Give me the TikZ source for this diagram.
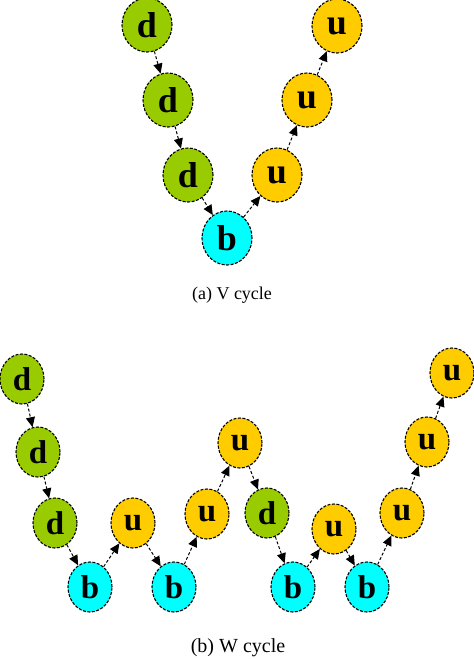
\documentclass[tikz,border=0pt]{standalone}
\usepackage{fontspec}
\setmainfont{Liberation Serif}
\usetikzlibrary{shapes.geometric,arrows.meta}
\definecolor{dgreen}{RGB}{153,204,0}
\definecolor{uorange}{RGB}{255,204,0}
\definecolor{bcyan}{RGB}{0,255,255}
\begin{document}
\begin{tikzpicture}[x=1pt,y=-1pt,
    vnode/.style={shape=ellipse,draw=black,dash pattern=on 3pt off 1.5pt,line width=1.1pt,minimum width=50pt,minimum height=54pt,inner sep=0pt,font=\fontsize{36}{36}\selectfont\bfseries},
    wnode/.style={shape=ellipse,draw=black,dash pattern=on 3pt off 1.5pt,line width=1.1pt,minimum width=44pt,minimum height=50pt,inner sep=0pt,font=\fontsize{33}{33}\selectfont\bfseries},
    flow/.style={dash pattern=on 3pt off 2pt,line width=1pt,-{Triangle[length=10pt,width=9pt]}}]
        \useasboundingbox (0,0) rectangle (474,659);
            % V cycle
            \node[vnode,fill=dgreen] (VD1) at (147,25) {d};
            \node[vnode,fill=dgreen] (VD2) at (168,100) {d};
            \node[vnode,fill=dgreen] (VD3) at (188,175) {d};
            \node[vnode,fill=bcyan] (VB) at (227,238) {b};
            \node[vnode,fill=uorange] (VU1) at (277,175) {u};
            \node[vnode,fill=uorange] (VU2) at (307,100) {u};
            \node[vnode,fill=uorange] (VU3) at (337,26) {u};
            \path [flow] (VD1) edge (VD2);
            \path [flow] (VD2) edge (VD3);
            \path [flow] (VD3) edge (VB);
            \path [flow] (VB) edge (VU1);
            \path [flow] (VU1) edge (VU2);
            \path [flow] (VU2) edge (VU3);
            \node[font=\fontsize{18}{18}\selectfont] (CapV) at (232,295) {(a) V cycle};
            % W cycle
            \node[wnode,fill=dgreen] (WD1) at (22,379) {d};
            \node[wnode,fill=dgreen] (WD2) at (38,452) {d};
            \node[wnode,fill=dgreen] (WD3) at (55,523) {d};
            \node[wnode,fill=bcyan] (WB1) at (90,587) {b};
            \node[wnode,fill=uorange] (WU1) at (133,523) {u};
            \node[wnode,fill=bcyan] (WB2) at (174,587) {b};
            \node[wnode,fill=uorange] (WU2) at (207,514) {u};
            \node[wnode,fill=uorange] (WU3) at (240,443) {u};
            \node[wnode,fill=dgreen] (WD4) at (267,513) {d};
            \node[wnode,fill=bcyan] (WB3) at (293,587) {b};
            \node[wnode,fill=uorange] (WU4) at (334,529) {u};
            \node[wnode,fill=bcyan] (WB4) at (367,587) {b};
            \node[wnode,fill=uorange] (WU5) at (402,513) {u};
            \node[wnode,fill=uorange] (WU6) at (427,442) {u};
            \node[wnode,fill=uorange] (WU7) at (452,373) {u};
            \path [flow] (WD1) edge (WD2);
            \path [flow] (WD2) edge (WD3);
            \path [flow] (WD3) edge (WB1);
            \path [flow] (WB1) edge (WU1);
            \path [flow] (WU1) edge (WB2);
            \path [flow] (WB2) edge (WU2);
            \path [flow] (WU2) edge (WU3);
            \path [flow] (WU3) edge (WD4);
            \path [flow] (WD4) edge (WB3);
            \path [flow] (WB3) edge (WU4);
            \path [flow] (WU4) edge (WB4);
            \path [flow] (WB4) edge (WU5);
            \path [flow] (WU5) edge (WU6);
            \path [flow] (WU6) edge (WU7);
            \node[font=\fontsize{20}{20}\selectfont] (CapW) at (238,648) {(b) W cycle};
        \end{tikzpicture}
\end{document}
